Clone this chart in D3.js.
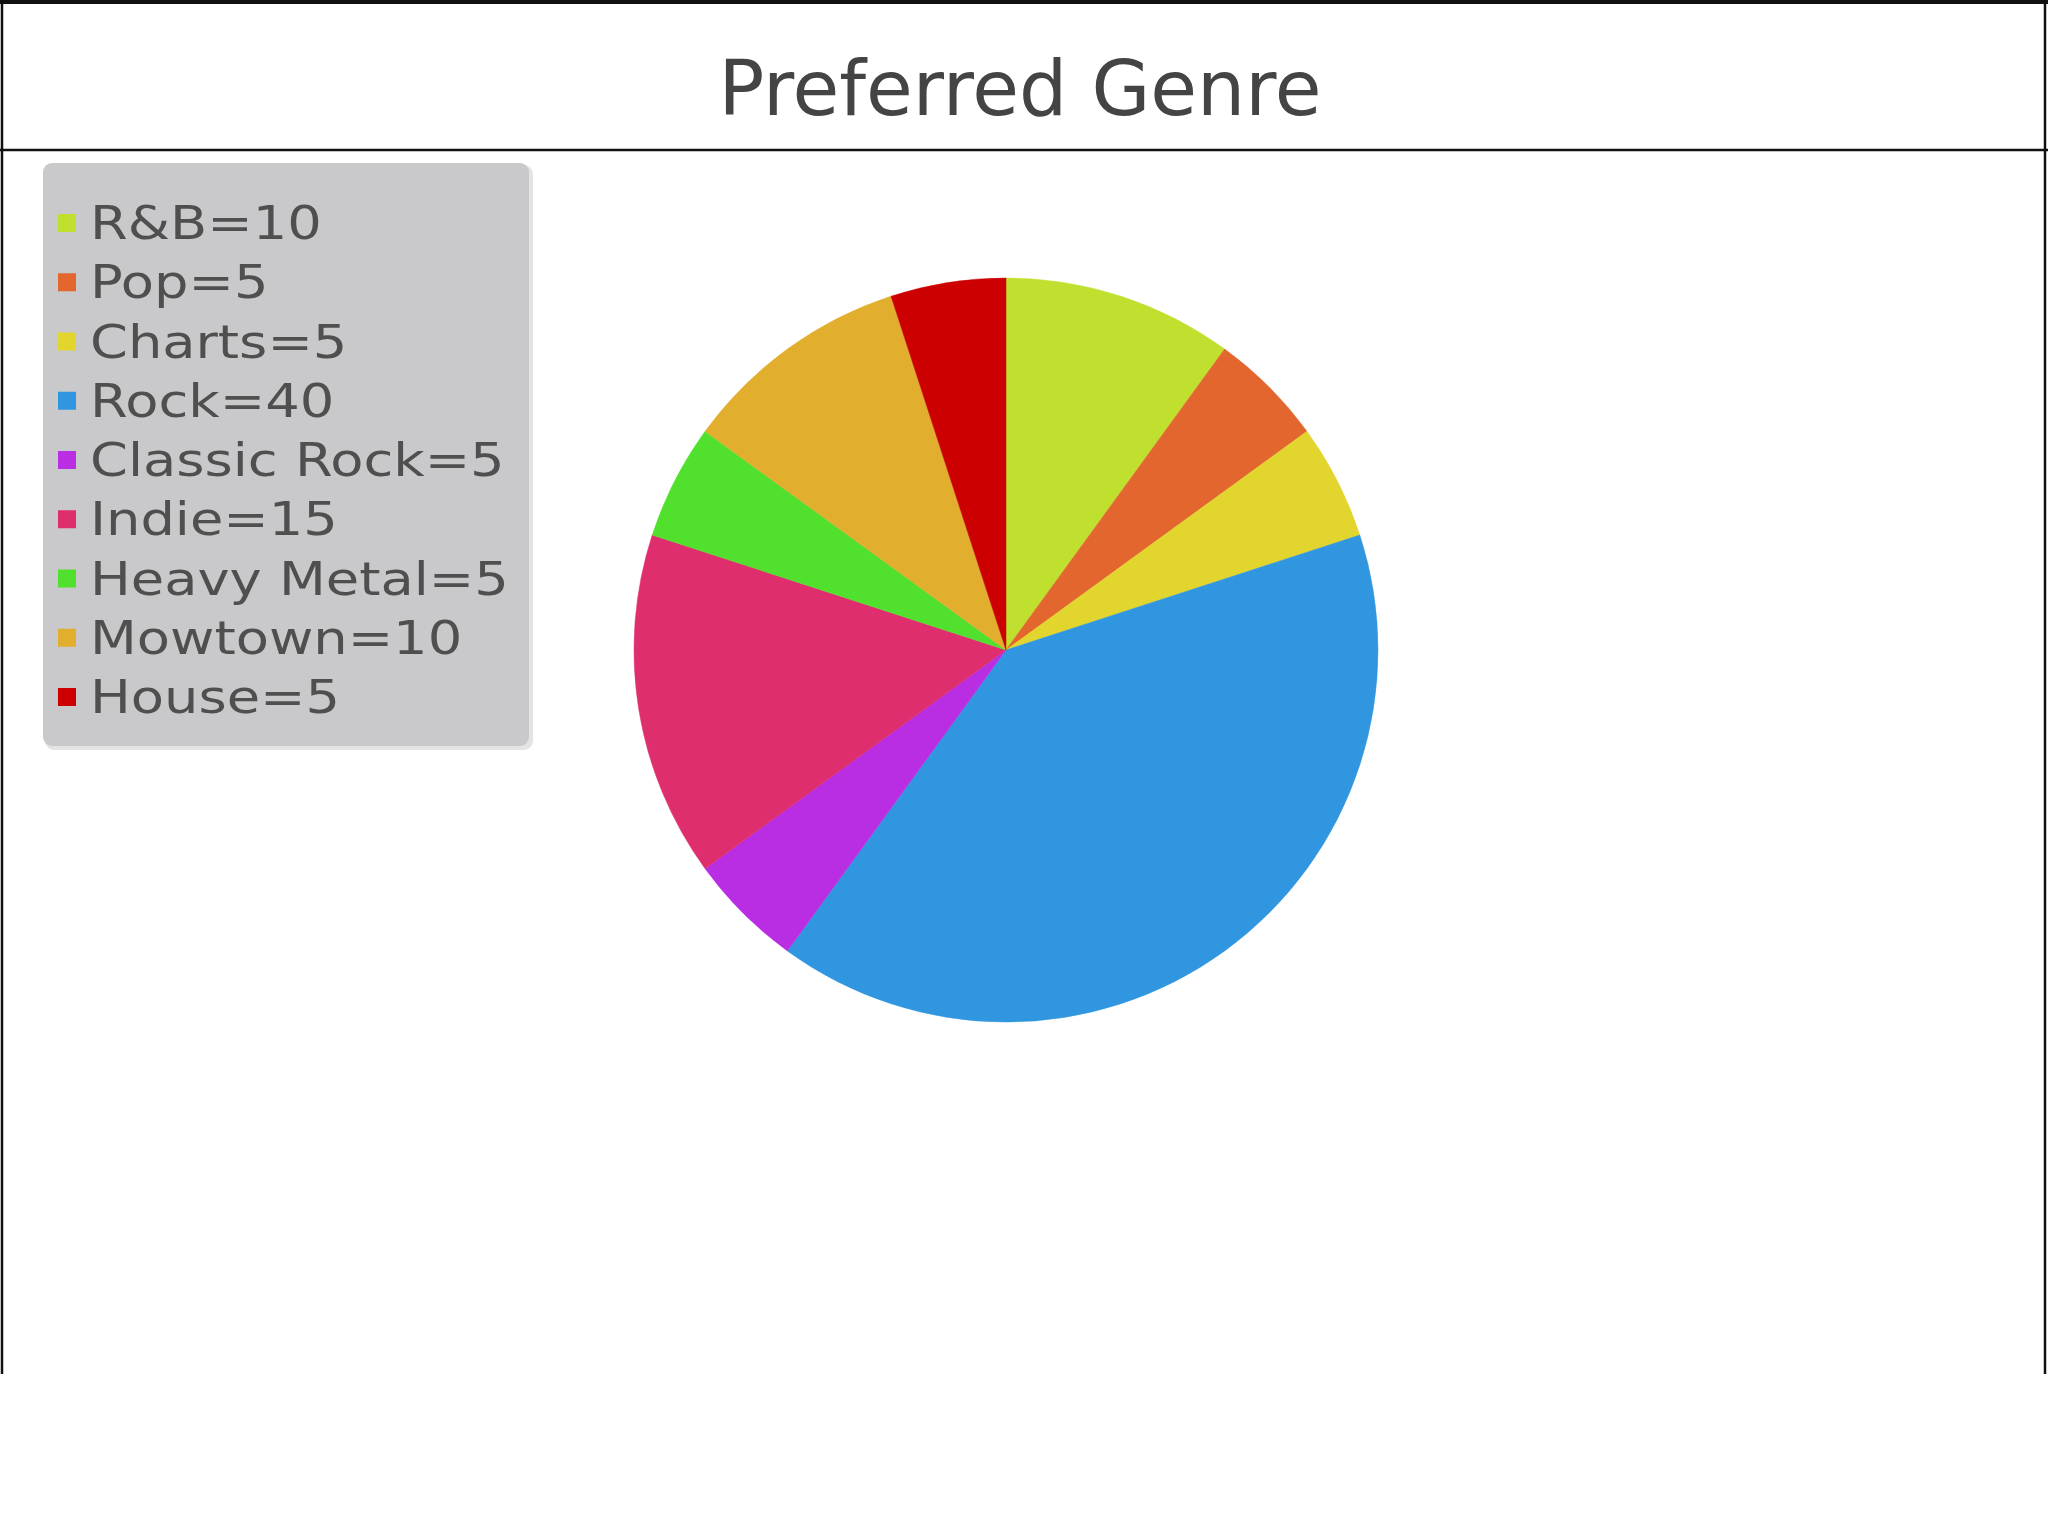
<!DOCTYPE html>
<html>
<head>
<meta charset="utf-8">
<script src="https://cdn.jsdelivr.net/npm/d3@7"></script>
<style>
  body { margin: 0; background: #fff; }
  svg { display: block; }
</style>
</head>
<body>
<div id="wrapper"></div>
<script>
// data
const genres = ["R&B", "Pop", "Charts", "Rock", "Classic Rock", "Indie", "Heavy Metal", "Mowtown", "House"];
const counts = [10, 5, 5, 40, 5, 15, 5, 10, 5];
const colors = ["#bfe02f", "#e3662f", "#e2d52e", "#3196e0", "#b92ee2", "#df2e6e", "#52e02e", "#e2ae2e", "#cc0000"];
const chartTitle = "Preferred Genre";

const dataset = genres.map((g, i) => ({ genre: g, count: counts[i] }));

let dimensions = {
    width: 2048,
    height: 1536,
    frameBottom: 1374,
    headerHeight: 150,
};

const wrapper = d3.select("#wrapper")
    .append("svg")
    .attr("width", dimensions.width)
    .attr("height", dimensions.height);

// frame lines (no bottom line in the original)
const frame = wrapper.append("g").attr("stroke", "#111").attr("fill", "none");
frame.append("line").attr("x1", 0).attr("x2", dimensions.width).attr("y1", 2).attr("y2", 2).attr("stroke-width", 4);
frame.append("line").attr("x1", 2).attr("x2", 2).attr("y1", 0).attr("y2", dimensions.frameBottom).attr("stroke-width", 2.5);
frame.append("line").attr("x1", 2045).attr("x2", 2045).attr("y1", 0).attr("y2", dimensions.frameBottom).attr("stroke-width", 2.5);
frame.append("line").attr("x1", 0).attr("x2", dimensions.width).attr("y1", dimensions.headerHeight).attr("y2", dimensions.headerHeight).attr("stroke-width", 2.5);

// title
wrapper.append("text")
    .attr("x", 1020)
    .attr("y", 115)
    .attr("text-anchor", "middle")
    .attr("fill", "#444")
    .style("font-family", "DejaVu Sans, sans-serif")
    .style("font-size", "76px")
    .text(chartTitle);

// pie
const radius = 372;
const pieGroup = wrapper.append("g")
    .attr("transform", "translate(1006, 650)");

const pie = d3.pie().sort(null).value(d => d.count);
const arc = d3.arc().innerRadius(0).outerRadius(radius);
const colorScale = d3.scaleOrdinal().domain(genres).range(colors);

pieGroup.selectAll("path")
    .data(pie(dataset))
    .enter()
    .append("path")
    .attr("d", arc)
    .attr("fill", d => colorScale(d.data.genre))
    .attr("stroke", d => colorScale(d.data.genre))
    .attr("stroke-width", 0.5);

// legend
const legend = wrapper.append("g");
legend.append("rect")
    .attr("x", 45)
    .attr("y", 165)
    .attr("width", 488)
    .attr("height", 585)
    .attr("rx", 9)
    .attr("fill", "#e4e4e4");
legend.append("rect")
    .attr("x", 43)
    .attr("y", 163)
    .attr("width", 486)
    .attr("height", 583)
    .attr("rx", 9)
    .attr("fill", "#c9c9cb");

const rowY = d3.scaleLinear().domain([0, genres.length - 1]).range([239, 713]);

const items = legend.selectAll(".item")
    .data(dataset)
    .enter()
    .append("g")
    .attr("class", "item")
    .attr("transform", (d, i) => `translate(0, ${rowY(i)})`);

items.append("rect")
    .attr("x", 58)
    .attr("y", -25)
    .attr("width", 18)
    .attr("height", 18)
    .attr("fill", d => colorScale(d.genre));

items.append("text")
    .attr("transform", "translate(90, 0) scale(1.18, 1)")
    .attr("fill", "#4f4f4f")
    .style("font-family", "DejaVu Sans, sans-serif")
    .style("font-size", "46px")
    .text(d => `${d.genre}=${d.count}`);
</script>
</body>
</html>
